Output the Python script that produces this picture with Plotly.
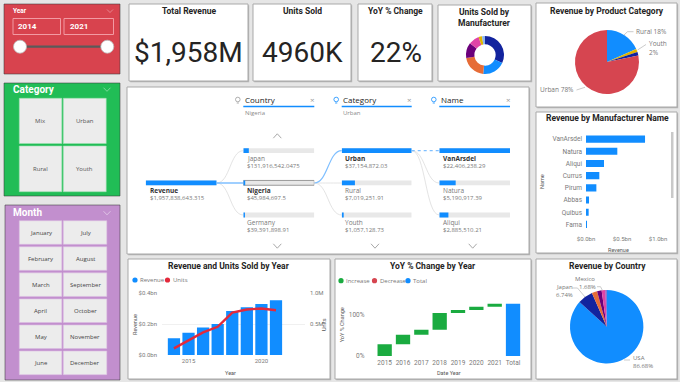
import plotly.graph_objects as go

W, H = 680, 382

# ======================= DATA =======================
total_revenue = 1957838643.315
total_units = 4960000
yoy_pct = 0.22

years = [2014, 2015, 2016, 2017, 2018, 2019, 2020, 2021]
revenue_bn = [0.108, 0.145, 0.179, 0.201, 0.285, 0.309, 0.331, 0.355]
units_m = [0.108, 0.242, 0.366, 0.457, 0.688, 0.737, 0.753, 0.726]

yoy_years = ["2015", "2016", "2017", "2018", "2019", "2020", "2021"]
yoy_change = [0.285, 0.236, 0.122, 0.407, 0.073, 0.081, 0.073]

manufacturers = ["VanArsdel", "Natura", "Aliqui", "Currus", "Pirum", "Abbas", "Quibus", "Fama"]
manu_revenue_bn = [0.82, 0.435, 0.25, 0.185, 0.144, 0.042, 0.037, 0.014]

unit_manufacturers = ["VanArsdel", "Natura", "Aliqui", "Currus", "Pirum", "Abbas", "Quibus"]
unit_share = [32, 19.5, 21, 13, 9, 3, 2.5]

categories = ["Rural", "Youth", "Mix", "Urban"]
category_share = [18.3, 1.7, 1.8, 78.2]

countries = ["USA", "Japan", "Nigeria", "Germany", "Mexico", "Other"]
country_share = [86.68, 6.74, 2.35, 2.01, 1.68, 0.54]

# decomposition tree
usa_revenue = 1697052000.0
tree_countries = ["Japan", "Nigeria", "Germany"]
tree_country_rev = [131916542.0475, 45984697.5, 39391898.91]
tree_categories = ["Urban", "Rural", "Youth"]
tree_category_rev = [37154872.03, 7019251.91, 1057128.73]
tree_names = ["VanArsdel", "Natura", "Aliqui"]
tree_name_rev = [22406238.29, 5190917.39, 2885510.21]

slicer_years = [2014, 2021]
slicer_categories = ["Mix", "Urban", "Rural", "Youth"]
months = ["January", "July", "February", "August", "March", "September",
          "April", "October", "May", "November", "June", "December"]

# ======================= STYLE =======================
BLUE = "#118dff"; NAVY = "#12239e"; ORANGE = "#e66c37"; PURPLE = "#6b007b"
PINK = "#e044a7"; YELLOW = "#e0b400"; RED = "#d64550"; GREEN = "#1aab40"
LRED = "#e3293b"; TXT = "#252423"; GREY = "#777777"; TRACK = "#e8e8e8"


def px(x):
    return x / W


def py(y):
    return 1 - y / H


shapes = []
anns = []


def rect(x0, y0, x1, y1, fill, line=None, lw=1.0, layer="below"):
    shapes.append(dict(type="rect", xref="paper", yref="paper",
                       x0=px(x0), x1=px(x1), y0=py(y1), y1=py(y0),
                       fillcolor=fill, layer=layer,
                       line=dict(color=line if line else fill, width=lw if line else 0)))


def circle(cx, cy, r, fill, line=None, lw=1.0, layer="above"):
    shapes.append(dict(type="circle", xref="paper", yref="paper",
                       x0=px(cx - r), x1=px(cx + r), y0=py(cy + r), y1=py(cy - r),
                       fillcolor=fill, layer=layer,
                       line=dict(color=line if line else fill, width=lw if line else 0)))


def path(points, color, width=1.0, dash=None, curve=False, layer="above"):
    if curve:
        (x0, y0), (x1, y1) = points
        xm = (x0 + x1) / 2
        d = (f"M {px(x0)},{py(y0)} C {px(xm)},{py(y0)} {px(xm)},{py(y1)} "
             f"{px(x1)},{py(y1)}")
    else:
        d = "M " + " L ".join(f"{px(x)},{py(y)}" for x, y in points)
    ln = dict(color=color, width=width)
    if dash:
        ln["dash"] = dash
    shapes.append(dict(type="path", xref="paper", yref="paper", path=d,
                       line=ln, layer=layer))


def text(x, y, t, size=7, color=TXT, bold=False, xa="center", ya="middle",
         family="Open Sans", angle=0):
    anns.append(dict(x=px(x), y=py(y), xref="paper", yref="paper",
                     text=f"<b>{t}</b>" if bold else t, showarrow=False,
                     xanchor=xa, yanchor=ya, textangle=angle, borderpad=0,
                     font=dict(size=size, color=color, family=family)))


def chevron(x, y, color, up=False, w=4, h=2.2, lw=1):
    s = -1 if up else 1
    path([(x - w, y - s * h), (x, y + s * h), (x + w, y - s * h)], color, lw)


fig = go.Figure()

# ======================= PANELS =======================
rect(4, 4, 120, 74, "#d8434e", "rgba(60,60,60,0.55)", 1)
rect(4, 83, 120, 196, "#21bd56", "rgba(60,60,60,0.55)", 1)
rect(5, 205, 120, 380, "#c28fce", "rgba(60,60,60,0.55)", 1)
for box in [(129, 4, 248, 81), (253, 4, 351, 81), (358, 4, 432, 81), (438, 5, 531, 81),
            (536, 3, 677, 107), (127, 87, 529, 254), (536, 112, 677, 253),
            (128, 259, 330, 379), (335, 259, 531, 379), (536, 259, 677, 379)]:
    rect(box[0] + 1.2, box[1] + 1.2, box[2] + 1.2, box[3] + 1.2, "#b4b4b4")
    rect(*box, "white", "#a9a9a9", 1)

# ---- Year slicer ----
text(12, 11.5, "Year", 6.5, "white", True, xa="left", family="Roboto")
chevron(110, 11, "rgba(255,255,255,0.35)", w=3, h=1.5)
rect(13, 18.5, 60.5, 34.5, "rgba(0,0,0,0)", "#f29aa3", 1)
rect(64, 18.5, 113.5, 34.5, "rgba(0,0,0,0)", "#f29aa3", 1)
text(16.5, 27, str(slicer_years[0]), 8, "white", True, xa="left", family="Roboto")
text(68.5, 27, str(slicer_years[1]), 8, "white", True, xa="left", family="Roboto")
path([(20, 46.7), (107.3, 46.7)], "#5a5a5a", 2.2)
circle(20, 46.7, 6.5, "white", "#bdbdbd", 0.8)
circle(107.3, 46.7, 6.5, "white", "#bdbdbd", 0.8)

# ---- Category slicer ----
text(12, 90, "Category", 10, "white", True, xa="left", family="Roboto")
chevron(107, 89.5, "rgba(255,255,255,0.4)", w=3.5, h=1.8)
cat_cols = [(19.3, 61.8), (63.3, 106.2)]
cat_rows = [(98.3, 143.5), (146, 191.7)]
for i, lab in enumerate(slicer_categories):
    cx0, cx1 = cat_cols[i % 2]
    cy0, cy1 = cat_rows[i // 2]
    rect(cx0, cy0, cx1, cy1, "#ececec", "#9fe0b4", 0.6)
    text((cx0 + cx1) / 2, (cy0 + cy1) / 2, lab, 6, "#555555")

# ---- Month slicer ----
text(12, 212.5, "Month", 10, "white", True, xa="left", family="Roboto")
chevron(107, 213, "rgba(255,255,255,0.45)", w=3.5, h=1.8)
mon_cols = [(19.3, 61.8), (63.3, 106.8)]
for i, lab in enumerate(months):
    cx0, cx1 = mon_cols[i % 2]
    r = i // 2
    cy0 = 220.7 + r * 26.07
    cy1 = cy0 + 23.6
    rect(cx0, cy0, cx1, cy1, "#ececec", "#dcbde3", 0.6)
    text((cx0 + cx1) / 2, (cy0 + cy1) / 2, lab, 6, "#444444")

# ======================= KPI CARDS =======================
text(188.5, 11, "Total Revenue", 8.5, TXT, True, family="Roboto")
text(302, 11, "Units Sold", 8.5, TXT, True, family="Roboto")
text(395, 11, "YoY % Change", 8.5, TXT, True, family="Roboto")
text(484.5, 5.5, "Units Sold by<br>Manufacturer", 8.5, TXT, True, ya="top", family="Roboto")
text(188.5, 52, f"${total_revenue / 1e6:,.0f}M", 28, TXT, family="Roboto")
text(302, 52, f"{total_units / 1000:.0f}K", 28, TXT, family="Roboto")
text(395.5, 52, f"{yoy_pct * 100:.0f}%", 28, TXT, family="Roboto")

fig.add_trace(go.Pie(labels=unit_manufacturers, values=unit_share, sort=False,
                     direction="clockwise", rotation=0, hole=0.56,
                     marker=dict(colors=[NAVY, BLUE, ORANGE, PURPLE, PINK, YELLOW, "#8ab4f0"]),
                     textinfo="none", hoverinfo="skip",
                     domain=dict(x=[px(466), px(504)], y=[py(74), py(36)])))

# ======================= PRODUCT CATEGORY PIE =======================
text(607, 11, "Revenue by Product Category", 8.5, TXT, True, family="Roboto")
fig.add_trace(go.Pie(labels=categories, values=category_share, sort=False,
                     direction="clockwise", rotation=0,
                     marker=dict(colors=[BLUE, YELLOW, NAVY, RED]),
                     textinfo="none", hoverinfo="skip",
                     domain=dict(x=[px(575), px(639)], y=[py(94), py(30)])))
pc = dict(zip(categories, category_share))
path([(624, 35), (627.5, 31.7), (633.5, 31.7)], "#b5b5b5", 0.7)
text(634.5, 31.7, f"Rural {pc['Rural']:.0f}%", 6.5, GREY, xa="left")
path([(637.5, 50), (646, 44.5)], "#b5b5b5", 0.7)
text(648, 43, "Youth", 6.5, GREY, xa="left")
text(648, 52, f"{pc['Youth']:.0f}%", 6.5, GREY, xa="left")
path([(576.5, 90), (585, 87.3)], "#b5b5b5", 0.7)
text(575, 90, f"Urban {pc['Urban']:.0f}%", 6.5, GREY, xa="right")

# ======================= DECOMPOSITION TREE =======================
tree_cols = {"country": (243.3, 314.3), "category": (341.7, 411.7), "name": (439.3, 510)}
heads = [("Country", tree_countries[1], tree_cols["country"], "#9a9a9a"),
         ("Category", tree_categories[0], tree_cols["category"], BLUE),
         ("Name", "", tree_cols["name"], BLUE)]
for title, sub, (c0, c1), bulb in heads:
    circle(c0 - 5.5, 99.5, 2.3, "rgba(0,0,0,0)", bulb, 0.8)
    path([(c0 - 6.6, 103), (c0 - 4.4, 103)], bulb, 0.8)
    text(c0 + 0.5, 100, title, 8, TXT, xa="left")
    text(c1 - 2, 100, "×", 8, "#9a9a9a")
    rect(c0, 105.8, c1, 107.3, BLUE)
    if sub:
        text(c0 + 0.5, 113, sub, 6, "#8a8a8a", xa="left")

chevron(277.3, 136, "#a8a8a8", up=True)
chevron(277.3, 246, "#a8a8a8")
chevron(375, 246, "#a8a8a8")
chevron(472.7, 246, "#a8a8a8")

row_y = [150.7, 183, 215]
FAINT = "#e4e4e4"
path([(216.7, 183), (243.3, 150.7)], FAINT, 1, curve=True, layer="below")
path([(216.7, 183), (243.3, 215)], FAINT, 1, curve=True, layer="below")
path([(216.7, 183), (243.3, 183)], "#7fbfff", 1.5, layer="below")
path([(314.3, 183), (341.7, 183)], FAINT, 1, curve=True, layer="below")
path([(314.3, 183), (341.7, 215)], FAINT, 1, curve=True, layer="below")
path([(314.3, 183), (341.7, 150.7)], "#7fbfff", 1.2, curve=True, layer="below")
path([(411.7, 150.7), (439.3, 183)], FAINT, 1, curve=True, layer="below")
path([(411.7, 150.7), (439.3, 215)], FAINT, 1, curve=True, layer="below")
path([(411.7, 150.7), (439.3, 150.7)], "#7fbfff", 1.3, dash="dot", layer="below")


def money(v):
    return "$" + format(v, ",")


tree_specs = [
    ("x4", "y5", (145.7, 216.7), ["Revenue"], [total_revenue], total_revenue, [1], 0),
    ("x5", "y6", tree_cols["country"], tree_countries, tree_country_rev, usa_revenue, [0, 1, 2], 1),
    ("x6", "y7", tree_cols["category"], tree_categories, tree_category_rev, max(tree_category_rev), [0, 1, 2], 0),
    ("x7", "y8", tree_cols["name"], tree_names, tree_name_rev, max(tree_name_rev), [0, 1, 2], 0),
]
tree_axes = {}
for xa, ya, (c0, c1), labels, vals, vmax, rows, sel in tree_specs:
    n = len(vals)
    lw = [0] * n
    lc = [TRACK] * n
    if xa == "x5":
        lw[sel] = 1
        lc[sel] = "#9a9a9a"
    fig.add_trace(go.Bar(x=[vmax] * n, y=rows, orientation="h", width=0.15,
                         marker=dict(color=TRACK, line=dict(color=lc, width=lw)),
                         xaxis=xa, yaxis=ya, hoverinfo="skip"))
    fig.add_trace(go.Bar(x=vals, y=rows, orientation="h", width=0.15,
                         marker=dict(color=BLUE, line=dict(width=0)),
                         xaxis=xa, yaxis=ya, hoverinfo="skip"))
    tree_axes["xaxis" + xa[1:]] = dict(domain=[px(c0), px(c1)], range=[0, vmax],
                                       visible=False, anchor=ya, fixedrange=True,
                                       automargin=False)
    tree_axes["yaxis" + ya[1:]] = dict(domain=[py(231.1), py(134.6)], range=[2.5, -0.5],
                                       visible=False, anchor=xa, fixedrange=True,
                                       automargin=False)
    for i, (lab, v) in enumerate(zip(labels, vals)):
        yy = row_y[rows[i]]
        x_lab = c0 + 2.5 if xa != "x4" else c0 + 3
        text(x_lab, yy + 7.8, lab, 6.5, "#333333" if i == sel else "#7a7a7a",
             bold=(i == sel), xa="left")
        text(x_lab, yy + 15, money(v), 6, "#7a7a7a", xa="left")

# ======================= REVENUE BY MANUFACTURER =======================
text(607, 118.5, "Revenue by Manufacturer Name", 8.5, TXT, True, family="Roboto")
fig.add_trace(go.Bar(x=manu_revenue_bn, y=manufacturers, orientation="h", width=0.58,
                     marker=dict(color=BLUE, line=dict(width=0)),
                     xaxis="x", yaxis="y", hoverinfo="skip"))
text(542, 182, "Name", 5.5, "#555555", angle=-90, family="Roboto")
text(618, 250, "Revenue", 5.5, "#555555", family="Roboto")
rect(671, 132, 673.5, 198, "#c9c9c9")

# ======================= REVENUE & UNITS BY YEAR =======================
text(229, 265.5, "Revenue and Units Sold by Year", 8.5, TXT, True, family="Roboto")
circle(135, 280, 2.6, BLUE)
text(139, 280, "Revenue", 6, GREY, xa="left")
circle(167.5, 280, 2.6, LRED)
text(171.5, 280, "Units", 6, GREY, xa="left")
fig.add_trace(go.Bar(x=years, y=revenue_bn, width=0.84, marker=dict(color=BLUE, line=dict(width=0)),
                     xaxis="x2", yaxis="y2", hoverinfo="skip"))
fig.add_trace(go.Scatter(x=years, y=units_m, mode="lines", line=dict(color=LRED, width=2.4),
                         xaxis="x2", yaxis="y3", hoverinfo="skip"))
text(135, 325, "Revenue", 5.5, "#555555", angle=-90, family="Roboto")
text(324, 325, "Units", 5.5, "#555555", angle=-90, family="Roboto")
text(230, 372.5, "Year", 5.5, "#555555", family="Roboto")

# ======================= YOY WATERFALL =======================
text(433, 265.5, "YoY % Change by Year", 8.5, TXT, True, family="Roboto")
circle(341, 280.7, 2.6, GREEN)
text(345, 280.7, "Increase", 6, GREY, xa="left")
circle(374.5, 280.7, 2.6, RED)
text(378.5, 280.7, "Decrease", 6, GREY, xa="left")
circle(408, 280.7, 2.6, BLUE)
text(412, 280.7, "Total", 6, GREY, xa="left")
fig.add_trace(go.Waterfall(x=yoy_years + ["Total"], y=yoy_change + [0],
                           measure=["relative"] * len(yoy_change) + ["total"],
                           increasing=dict(marker=dict(color=GREEN)),
                           decreasing=dict(marker=dict(color=RED)),
                           totals=dict(marker=dict(color=BLUE)),
                           connector=dict(visible=False), textinfo="none",
                           xaxis="x3", yaxis="y4", hoverinfo="skip"))
text(342.3, 325, "YoY % Change", 5.5, "#555555", angle=-90, family="Roboto")
text(449, 372.5, "Date Year", 5.5, "#555555", family="Roboto")

# ======================= REVENUE BY COUNTRY =======================
text(607, 265.5, "Revenue by Country", 8.5, TXT, True, family="Roboto")
fig.add_trace(go.Pie(labels=countries, values=country_share, sort=False,
                     direction="clockwise", rotation=0,
                     marker=dict(colors=[BLUE, NAVY, ORANGE, PURPLE, PINK, "#744ec2"]),
                     textinfo="none", hoverinfo="skip",
                     domain=dict(x=[px(570), px(643.4)], y=[py(363.4), py(290)])))
cs = dict(zip(countries, country_share))
text(585, 279, "Mexico", 6, GREY)
text(587, 286.7, f"{cs['Mexico']:.2f}%", 6, GREY)
path([(597, 286.7), (600.5, 286.7), (602.5, 290.5)], "#b5b5b5", 0.7)
text(564, 287.3, "Japan", 6, GREY)
text(564, 294.5, f"{cs['Japan']:.2f}%", 6, GREY)
path([(572.5, 288), (577.5, 288), (585, 297)], "#b5b5b5", 0.7)
path([(624, 360), (630, 360)], "#b5b5b5", 0.7)
text(631.5, 357.5, "USA", 6, GREY, xa="left")
text(631.5, 366, f"{cs['USA']:.2f}%", 6, GREY, xa="left")

# ======================= LAYOUT =======================
tick = dict(size=6, color="#7a7a7a", family="Roboto")
common = dict(showgrid=False, zeroline=False, showline=False, fixedrange=True, automargin=False)
layout_axes = dict(
    xaxis=dict(domain=[px(586), px(658)], range=[0, 1.0], tickvals=[0, 0.5, 1.0],
               ticktext=["$0.0bn", "$0.5bn", "$1.0bn"], anchor="y",
               tickfont=tick, ticklabelstandoff=3, **common),
    yaxis=dict(domain=[py(230.5), py(133)], anchor="x", autorange="reversed",
               tickfont=dict(size=6.5, color="#7a7a7a", family="Roboto"),
               ticklabelstandoff=3, **common),
    xaxis2=dict(domain=[px(162), px(305)], range=[2013.18, 2022.99], tickvals=[2015, 2020],
                anchor="y2", tickfont=tick, ticklabelstandoff=1, **common),
    yaxis2=dict(domain=[py(355), py(293.3)], range=[0, 0.4], tickvals=[0, 0.2, 0.4],
                ticktext=["$0.0bn", "$0.2bn", "$0.4bn"], anchor="x2",
                tickfont=tick, ticklabelstandoff=4, **common),
    yaxis3=dict(overlaying="y2", side="right", anchor="x2", range=[0, 1.0],
                tickvals=[0.5, 1.0], ticktext=["0.5M", "1.0M"],
                tickfont=tick, ticklabelstandoff=4, **common),
    xaxis3=dict(domain=[px(375.5), px(522.2)], type="category", anchor="y4",
                tickfont=dict(size=6.5, color="#7a7a7a", family="Roboto"), ticklabelstandoff=1,
                **common),
    yaxis4=dict(domain=[py(356), py(298.6)], range=[0, 1.4], tickvals=[0, 1.0],
                ticktext=["0%", "100%"], anchor="x3",
                tickfont=dict(size=6.5, color="#7a7a7a", family="Roboto"),
                ticklabelstandoff=10, **common),
)
layout_axes["yaxis2"]["showgrid"] = True
layout_axes["yaxis2"]["gridcolor"] = "#f0f0f0"
layout_axes.update(tree_axes)

fig.update_layout(
    width=W, height=H, margin=dict(l=0, r=0, t=0, b=0, pad=0, autoexpand=False),
    paper_bgcolor="#e6e6e6", plot_bgcolor="rgba(0,0,0,0)",
    showlegend=False, barmode="overlay", waterfallgap=0.22,
    font=dict(family="Open Sans", color=TXT),
    shapes=shapes, annotations=anns, **layout_axes,
)

fig.write_html("out.html", config=dict(displayModeBar=False, staticPlot=True),
               post_script="document.body.style.margin='0';document.body.style.overflow='hidden';")
